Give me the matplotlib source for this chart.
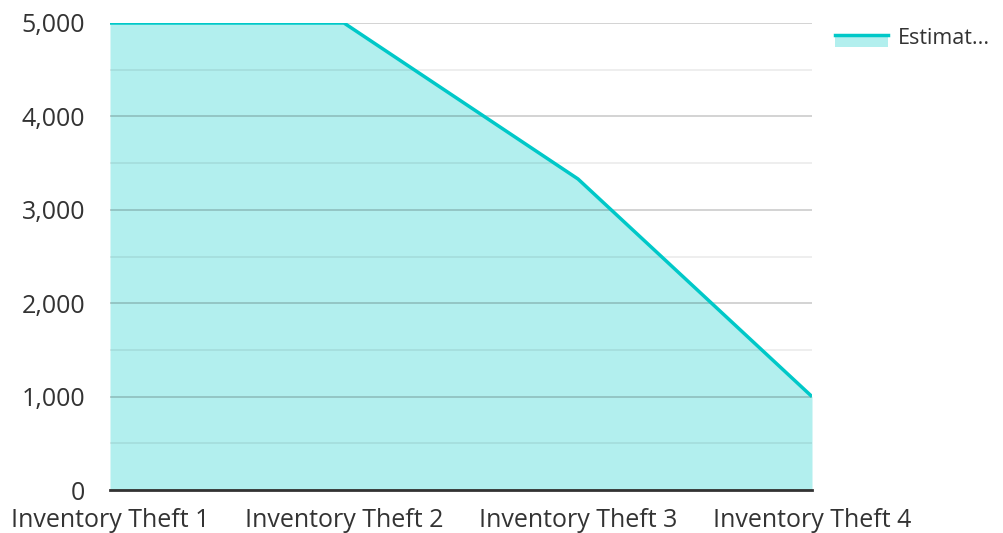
import matplotlib.pyplot as plt
from matplotlib.patches import Rectangle
from matplotlib.lines import Line2D
from matplotlib.ticker import FuncFormatter, MultipleLocator

plt.rcParams['font.family'] = ['Open Sans', 'DejaVu Sans']

categories = ['Inventory Theft 1', 'Inventory Theft 2', 'Inventory Theft 3', 'Inventory Theft 4']
values = [5000, 5000, 3330, 1000]
series_name = 'Estimat...'

line_color = '#00c8c8'
fill_color = '#b2efee'

fig = plt.figure(figsize=(10.04, 5.33), dpi=100)
ax = fig.add_axes([110 / 1004, 1 - 490 / 533, 702 / 1004, 467 / 533])

x = list(range(len(categories)))
ax.fill_between(x, values, 0, color=fill_color, lw=0, zorder=1)
ax.plot(x, values, color=line_color, lw=2.5, zorder=4, solid_capstyle='butt')

ax.set_xlim(0, len(categories) - 1)
ax.set_ylim(0, 5000)
ax.yaxis.set_major_locator(MultipleLocator(1000))
ax.yaxis.set_minor_locator(MultipleLocator(500))
ax.yaxis.set_major_formatter(FuncFormatter(lambda v, p: f'{int(v):,}'))
ax.grid(which='major', axis='y', color='#000000', alpha=0.2, lw=1.2, zorder=2)
ax.grid(which='minor', axis='y', color='#000000', alpha=0.08, lw=1.2, zorder=2)
ax.set_axisbelow(False)

for s in ['top', 'right', 'left']:
    ax.spines[s].set_visible(False)
ax.spines['bottom'].set_color('#333333')
ax.spines['bottom'].set_linewidth(2)
ax.spines['bottom'].set_zorder(5)

ax.set_xticks(x)
ax.set_xticklabels(categories)
ax.tick_params(axis='both', which='both', length=0, labelsize=18, colors='#333333')
ax.tick_params(axis='y', pad=18)
ax.tick_params(axis='x', pad=13)

# legend swatch: fill patch with line on top
fig.patches.append(Rectangle((835 / 1004, 1 - 47 / 533), 53 / 1004, 13 / 533,
                             transform=fig.transFigure, color=fill_color, lw=0))
fig.lines.append(Line2D([835 / 1004, 888 / 1004], [1 - 35 / 533, 1 - 35 / 533],
                        transform=fig.transFigure, color=line_color, lw=2.5))
fig.text(898 / 1004, 1 - 38 / 533, series_name, fontsize=15.5, color='#333333',
         va='center', ha='left')

fig.savefig('out.png', dpi=100)
